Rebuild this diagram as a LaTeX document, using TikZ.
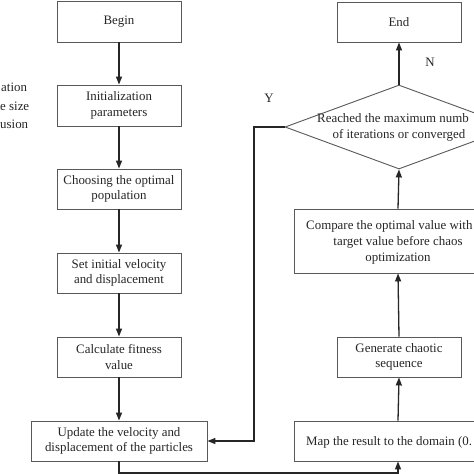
\documentclass[tikz,border=0pt]{standalone}
\usepackage{fontspec}
\setmainfont{Liberation Serif}
\usetikzlibrary{arrows.meta,shapes.geometric}
\begin{document}
\begin{tikzpicture}[x=1pt,y=-1pt,
  every node/.style={font=\fontsize{12.9}{15.5}\selectfont, text=black!85},
  box/.style={draw=black!65, line width=0.9pt, inner sep=0pt, align=center},
  conn/.style={draw=black!85, line width=1.3pt, -{Triangle[length=8pt,width=6pt]}},
  frag/.style={anchor=base west, inner sep=0pt}]
\useasboundingbox (0,0) rectangle (474,474);
\clip (0,0) rectangle (474,474);
\fill[white] (0,0) rectangle (474,474);
% left column
\node[box, minimum width=124pt, minimum height=41pt] (begin) at (119,21.5) {Begin};
\node[box, minimum width=124pt, minimum height=41pt] (init) at (119,105.5) {Initialization\\parameters};
\node[box, minimum width=124pt, minimum height=40pt] (choose) at (119,189) {Choosing the optimal\\population};
\node[box, minimum width=124pt, minimum height=40pt] (set) at (119,273) {Set initial velocity\\and displacement};
\node[box, minimum width=124pt, minimum height=40pt] (calc) at (119,357) {Calculate fitness\\value};
\node[box, minimum width=176pt, minimum height=40pt] (update) at (119,441) {Update the velocity and\\displacement of the particles};
% right column
\node[box, minimum width=124pt, minimum height=40pt] (end) at (399,22) {End};
\node[box, diamond, minimum width=228pt, minimum height=84pt] (dec) at (399,127) {};
\node[frag] (dect1) at (317,122) {Reached the maximum numb};
\node[anchor=base, inner sep=0pt] (dect2) at (399,138) {of iterations or converged};
\node[box, minimum width=208pt, minimum height=64pt] (comp) at (398,241) {};
\node[frag] (compt1) at (306,229) {Compare the optimal value with};
\node[anchor=base, inner sep=0pt] (compt2) at (398,245) {target value before chaos};
\node[anchor=base, inner sep=0pt] (compt3) at (398,261) {optimization};
\node[box, minimum width=124pt, minimum height=40pt] (gen) at (399,357) {Generate chaotic\\sequence};
\node[box, minimum width=208pt, minimum height=40pt] (map) at (398,441) {};
\node[frag] (mapt) at (306,445) {Map the result to the domain (0.};
% connectors
\draw[conn] (begin) -- (init);
\draw[conn] (init) -- (choose);
\draw[conn] (choose) -- (set);
\draw[conn] (set) -- (calc);
\draw[conn] (calc) -- (update);
\coordinate (b1) at (119,473);
\coordinate (b2) at (398,473);
\draw[conn] (update.south) -- (b1) -- (b2) -- (map.south);
\draw[conn] (map.north) -- (gen.south);
\draw[conn] (gen.north) -- (comp.south);
\draw[conn] (comp.north) -- (dec.south);
\draw[conn] (dec.north) -- (end.south);
\coordinate (y1) at (254,127);
\coordinate (y2) at (254,441);
\draw[conn] (dec.west) -- (y1) -- (y2) -- (update.east);
% labels
\node (nlab) at (430,62) {N};
\node (ylab) at (269,98) {Y};
% side text fragments
\node[frag] (t1) at (1,91) {ation};
\node[frag] (t2) at (0,110) {e size};
\node[frag] (t3) at (0,128) {usion};
\end{tikzpicture}
\end{document}
